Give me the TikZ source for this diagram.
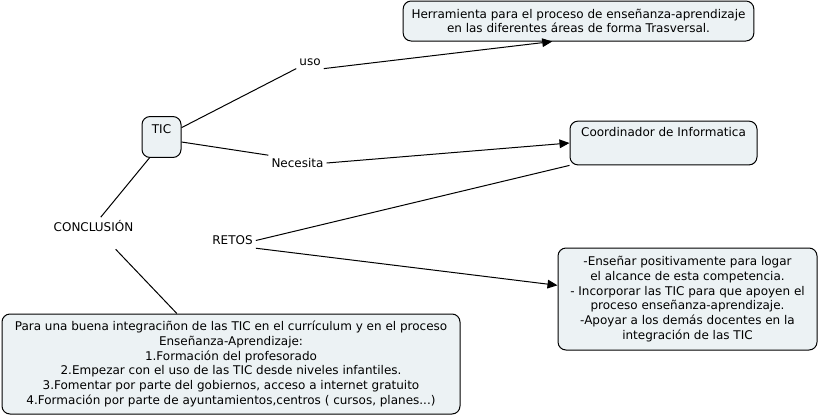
\documentclass[tikz,border=0pt]{standalone}
\usepackage{fontspec}
\setmainfont{DejaVu Sans}
\usetikzlibrary{arrows.meta}
\definecolor{boxfill}{RGB}{236,242,244}

\begin{document}
\begin{tikzpicture}
[x=0.75pt,y=-0.75pt,line width=0.75pt,
 font=\fontsize{9pt}{11pt}\selectfont,
 cbox/.style={draw,rounded corners=6pt,fill=boxfill,align=center,inner sep=0pt},
 phrase/.style={inner sep=2pt},
 arr/.style={-{Triangle[length=7.5pt,width=6.5pt]}}]

\useasboundingbox (0,0) rectangle (820,418);

% concepts
\node[cbox,minimum width=263pt,minimum height=30pt] (herr) at (578.5,21)
  {Herramienta para el proceso de enseñanza-aprendizaje\\en las diferentes áreas de forma Trasversal.};
\node[cbox,minimum width=29.25pt,inner sep=6pt,text depth=12pt] (tic) at (161.5,137) {TIC};
\node[cbox,minimum width=140.25pt,inner sep=5pt,text depth=16pt] (coord) at (663.5,143) {Coordinador de Informatica};
\node[cbox,minimum width=194.25pt,minimum height=76.5pt] (retosbox) at (687.5,299)
  {-Enseñar positivamente para logar\\el alcance de esta competencia.\\- Incorporar las TIC para que apoyen el\\proceso enseñanza-aprendizaje.\\-Apoyar a los demás docentes en la\\integración de las TIC};
\node[cbox,minimum width=343.5pt,minimum height=75pt] (integ) at (231,364)
  {Para una buena integraciñon de las TIC en el currículum y en el proceso\\Enseñanza-Aprendizaje:\\1.Formación del profesorado\\2.Empezar con el uso de las TIC desde niveles infantiles.\\3.Fomentar por parte del gobiernos, acceso a internet gratuito\\4.Formación por parte de ayuntamientos,centros ( cursos, planes...)};

% linking phrases
\node[phrase] (uso) at (310,62) {uso};
\node[phrase] (nec) at (297.5,163) {Necesita};
\node[phrase] (concl) at (93.5,226) {CONCLUSIÓN};
\node[phrase] (retos) at (232.5,240.5) {RETOS};

\draw (tic.25) -- (uso.south west);
\draw[arr] (uso.south east) -- (herr.-142);
\draw (tic.-14) -- (nec.north west);
\draw[arr] (nec.east) -- (coord.west);
\draw (concl) -- (tic.-120);
\draw[shorten <=15pt] (concl) -- (integ.137);
\draw (retos.east) -- (coord.south west);
\draw[arr] (retos.south east) -- (retosbox.174);
\end{tikzpicture}
\end{document}
